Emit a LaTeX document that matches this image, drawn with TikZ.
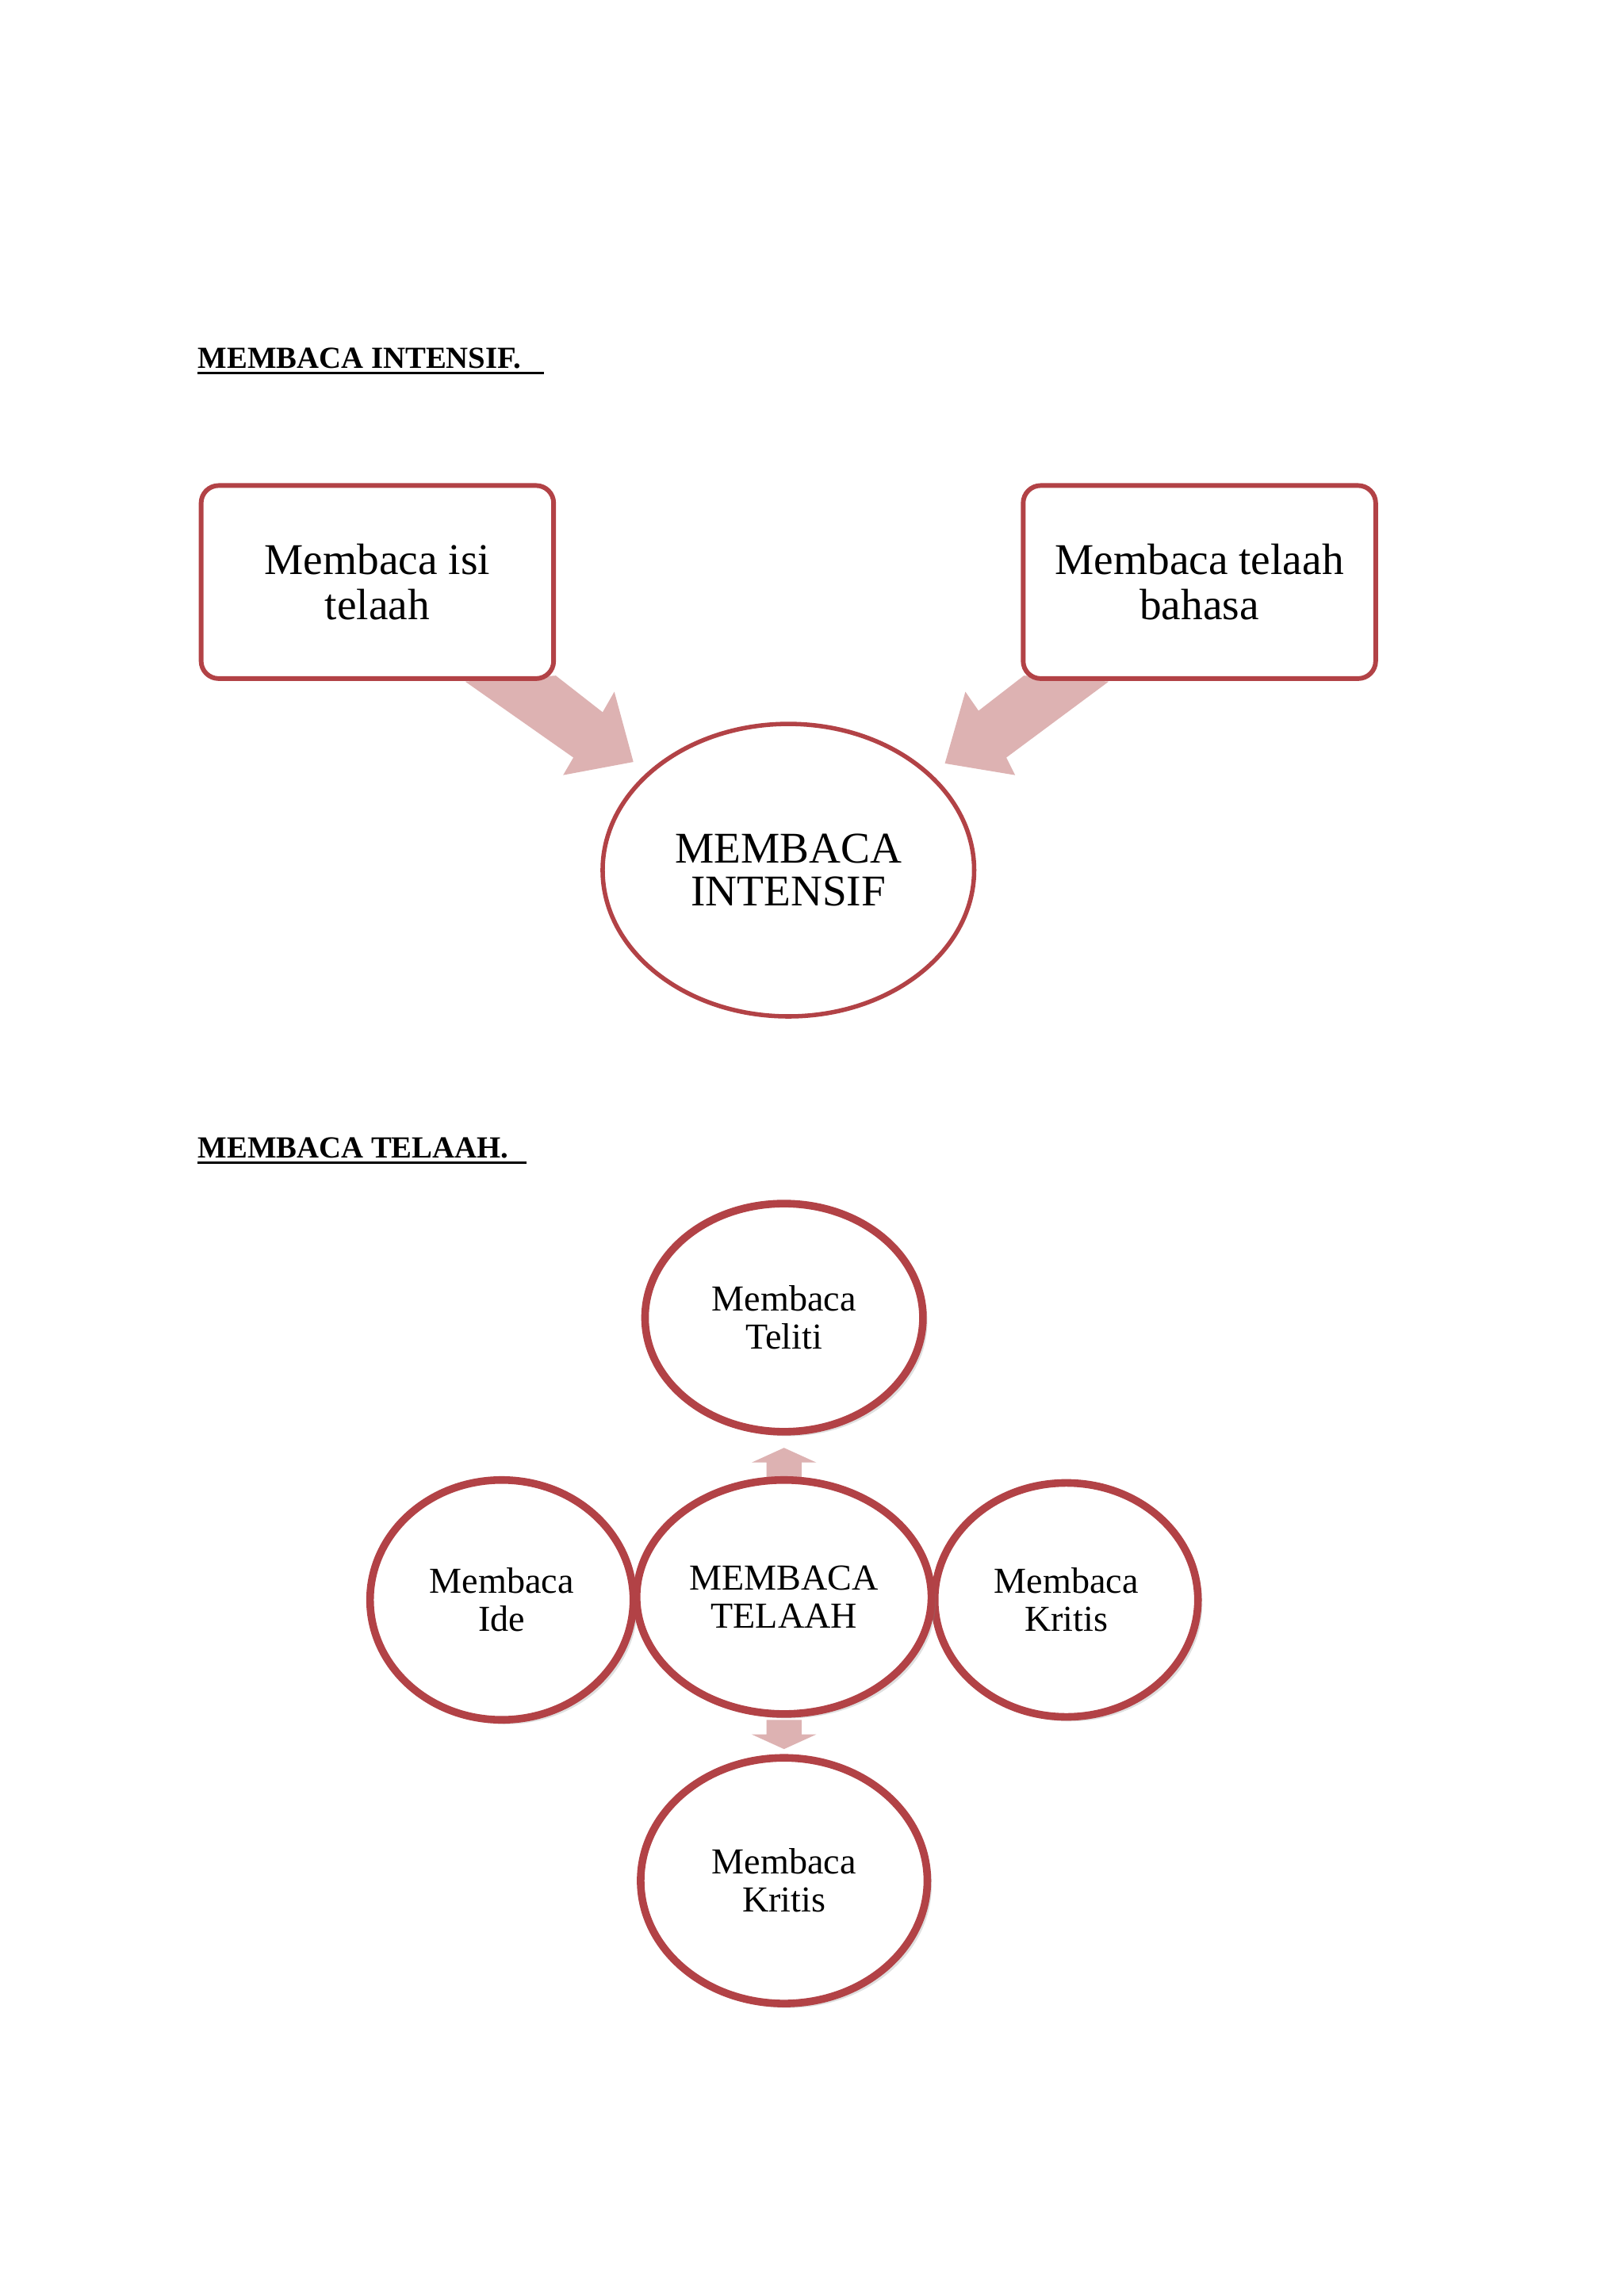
\documentclass[tikz,border=0pt]{standalone}
\usepackage{fontspec}
\setmainfont{Liberation Serif}
\usetikzlibrary{shapes.geometric,shadows}
\definecolor{bord}{RGB}{178,66,70}
\definecolor{pinkarr}{RGB}{221,178,178}
\begin{document}
\begin{tikzpicture}[x=0.5pt,y=-0.5pt,
  box/.style={draw=bord,line width=1.6pt,rounded corners=6pt,fill=white,minimum width=120.5pt,minimum height=66pt,align=center,font=\fontsize{15}{15.5}\selectfont},
  ell/.style={ellipse,draw=bord,line width=1.5pt,fill=white,align=center,font=\fontsize{15}{14.5}\selectfont},
  circ/.style={ellipse,draw=bord,line width=2.6pt,fill=white,align=center,drop shadow={opacity=0.25,shadow xshift=1.5pt,shadow yshift=-1.5pt},font=\fontsize{12.5}{13}\selectfont},
  title/.style={anchor=base west,inner sep=0pt,font=\fontsize{10.5}{12}\selectfont\bfseries},
  blk/.style={fill=pinkarr,draw=none}]
\useasboundingbox[fill=white] (0,0) rectangle (1110,1570);
% block arrows
\fill[blk] (318,466) -- (392,518) -- (385,530) -- (433,521) -- (420,473) -- (412,487) -- (380,462) -- cycle;
\fill[blk] (758,466) -- (688,518) -- (694,530) -- (646,522) -- (660,473) -- (669,486) -- (700,462) -- cycle;
\node[title] (t1) at (135,252) {MEMBACA INTENSIF.};
\draw[line width=0.7pt] (t1.base west) ++(0,3) -- ++(237,0);
\node[box] (b1) at (258,398) {Membaca isi\\telaah};
\node[box] (b2) at (820,398) {Membaca telaah\\bahasa};
\node[ell,minimum width=127pt,minimum height=100pt] (e) at (539,595) {MEMBACA\\INTENSIF};
\node[title] (t2) at (135,792) {MEMBACA TELAAH.};
\draw[line width=0.7pt] (t2.base west) ++(0,3) -- ++(225,0);
% small arrows
\fill[blk] (514,1000) -- (536,990) -- (558,1000) -- (548,1000) -- (548,1010) -- (524,1010) -- (524,1000) -- cycle;
\fill[blk] (524,1176) -- (548,1176) -- (548,1186) -- (558,1186) -- (536,1196) -- (514,1186) -- (524,1186) -- cycle;
\node[circ,minimum width=95pt,minimum height=78pt] (top) at (536,901) {Membaca\\Teliti};
\node[circ,minimum width=90pt,minimum height=82pt] (left) at (343,1094) {Membaca\\Ide};
\node[circ,minimum width=90pt,minimum height=80pt] (right) at (729,1094) {Membaca\\Kritis};
\node[circ,minimum width=99pt,minimum height=80pt] (mid) at (536,1092) {MEMBACA\\TELAAH};
\node[circ,minimum width=98pt,minimum height=84pt] (bot) at (536,1286) {Membaca\\Kritis};
\end{tikzpicture}
\end{document}
